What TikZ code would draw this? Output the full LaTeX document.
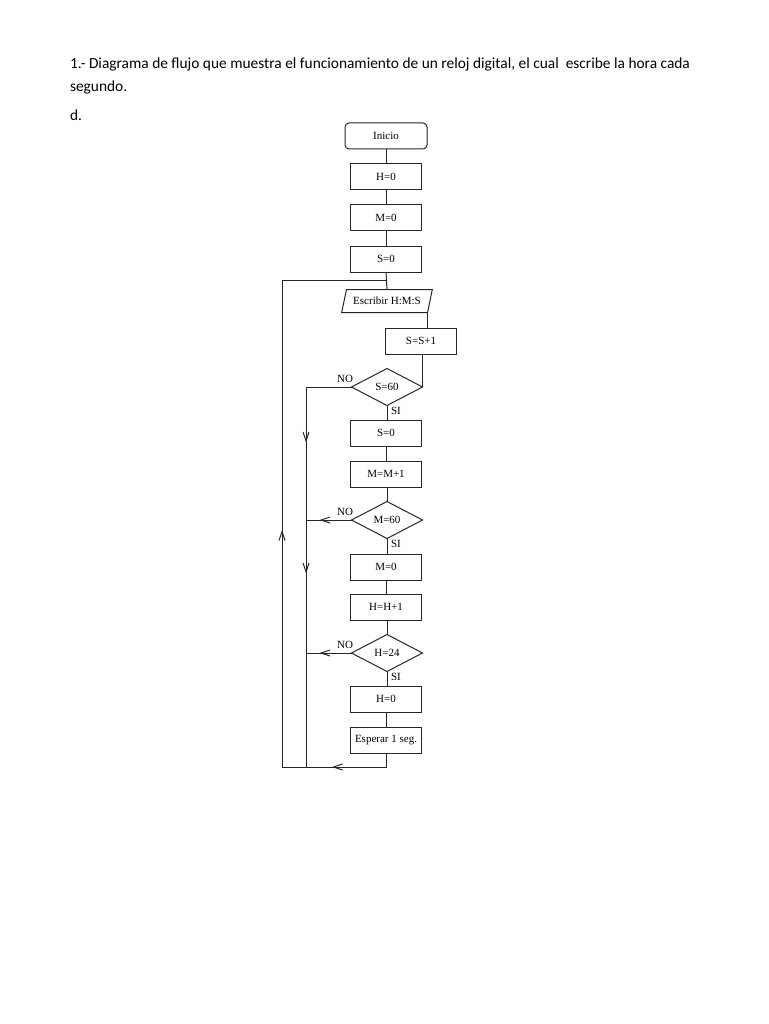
\documentclass[tikz,border=0pt]{standalone}
\usepackage{fontspec}
\setmainfont{Liberation Serif}
\newfontfamily\calibri{Carlito}
\usetikzlibrary{shapes.geometric,arrows.meta,decorations.markings}
\tikzset{barb/.tip={Straight Barb[length=9pt,width=6pt]}}
\begin{document}
\begin{tikzpicture}[x=1pt,y=-1pt,
  line width=1pt,
  every node/.style={outer sep=0pt},
  conn/.style={draw=black!85},
  box/.style={draw=black!85, minimum width=71pt, minimum height=26pt, inner sep=0pt, font=\fontsize{11}{13}\selectfont},
  rbox/.style={box, rounded corners=4pt, minimum width=82pt},
  dec/.style={draw=black!85, shape=diamond, minimum width=71pt, minimum height=37pt, inner sep=0pt, font=\fontsize{11}{13}\selectfont},
  io/.style={draw=black!85, shape=trapezium, trapezium left angle=63, trapezium right angle=117, trapezium stretches=true, minimum width=91pt, minimum height=23pt, inner sep=0pt, font=\fontsize{11}{13}\selectfont},
  lbl/.style={font=\fontsize{11}{13}\selectfont, inner sep=0pt},
  title/.style={font=\calibri\fontsize{15.4}{18}\selectfont, anchor=base west, inner sep=0pt},
  midarrows/.style={postaction={decorate}, decoration={markings, #1}}
]
\useasboundingbox (0,0) rectangle (768,1024);

\node[title] (t1) at (70,69) {1.- Diagrama de flujo que muestra el funcionamiento de un reloj digital, el cual\ \ escribe la hora cada};
\node[title] (t2) at (70,92) {segundo.};
\node[title] (t3) at (70,121) {d.};

\node[rbox] (inicio) at (386,136) {Inicio};
\node[box] (h0) at (386,177) {H=0};
\node[box] (m0) at (386,218) {M=0};
\node[box] (s0) at (386,259) {S=0};
\node[io] (esc) at (387,301) {Escribir H:M:S};
\node[box] (ss1) at (421,341) {S=S+1};
\node[dec] (d1) at (387,387) {S=60};
\node[box] (s0b) at (386,433) {S=0};
\node[box] (mm1) at (386,474) {M=M+1};
\node[dec] (d2) at (387,520) {M=60};
\node[box] (m0b) at (386,567) {M=0};
\node[box] (hh1) at (386,607) {H=H+1};
\node[dec] (d3) at (387,653) {H=24};
\node[box] (h0b) at (386,699) {H=0};
\node[box] (esp) at (386,740) {Esperar 1 seg.};

\node[lbl] (no1) at (345,379) {NO};
\node[lbl] (si1) at (396,411) {SI};
\node[lbl] (no2) at (345,512) {NO};
\node[lbl] (si2) at (396,544) {SI};
\node[lbl] (no3) at (345,645) {NO};
\node[lbl] (si3) at (396,677) {SI};

\coordinate (j) at (386,280);
\coordinate (n1) at (306,387);
\coordinate (n2) at (306,520);
\coordinate (n3) at (306,653);
\coordinate (n4) at (306,767);
\coordinate (b1) at (386,767);
\coordinate (b2) at (282,767);
\coordinate (b3) at (282,280);

\draw[conn] (inicio) -- (h0);
\draw[conn] (h0) -- (m0);
\draw[conn] (m0) -- (s0);
\draw[conn] (s0.south) -- (esc.north);
\draw[conn] (esc.bottom right corner) -- (esc.bottom right corner |- ss1.north);
\draw[conn] (d1.east |- ss1.south) -- (d1.east);
\draw[conn] (d1.south) -- (s0b.north -| d1.south);
\draw[conn] (s0b) -- (mm1);
\draw[conn] (mm1.south -| d2.north) -- (d2.north);
\draw[conn] (d2.south) -- (m0b.north -| d2.south);
\draw[conn] (m0b) -- (hh1);
\draw[conn] (hh1.south -| d3.north) -- (d3.north);
\draw[conn] (d3.south) -- (h0b.north -| d3.south);
\draw[conn] (h0b) -- (esp);

\draw[conn, midarrows={mark=at position 101pt with {\arrow{barb}}, mark=at position 232pt with {\arrow{barb}}}] (d1.west) -- (n1) -- (n4);
\draw[conn, midarrows={mark=at position 32pt with {\arrow{barb}}}] (d2.west) -- (n2);
\draw[conn, midarrows={mark=at position 32pt with {\arrow{barb}}}] (d3.west) -- (n3);
\draw[conn, midarrows={mark=at position 68pt with {\arrow{barb}}, mark=at position 355pt with {\arrow{barb}}}] (esp.south) -- (b1) -- (b2) -- (b3) -- (j);
\end{tikzpicture}
\end{document}
